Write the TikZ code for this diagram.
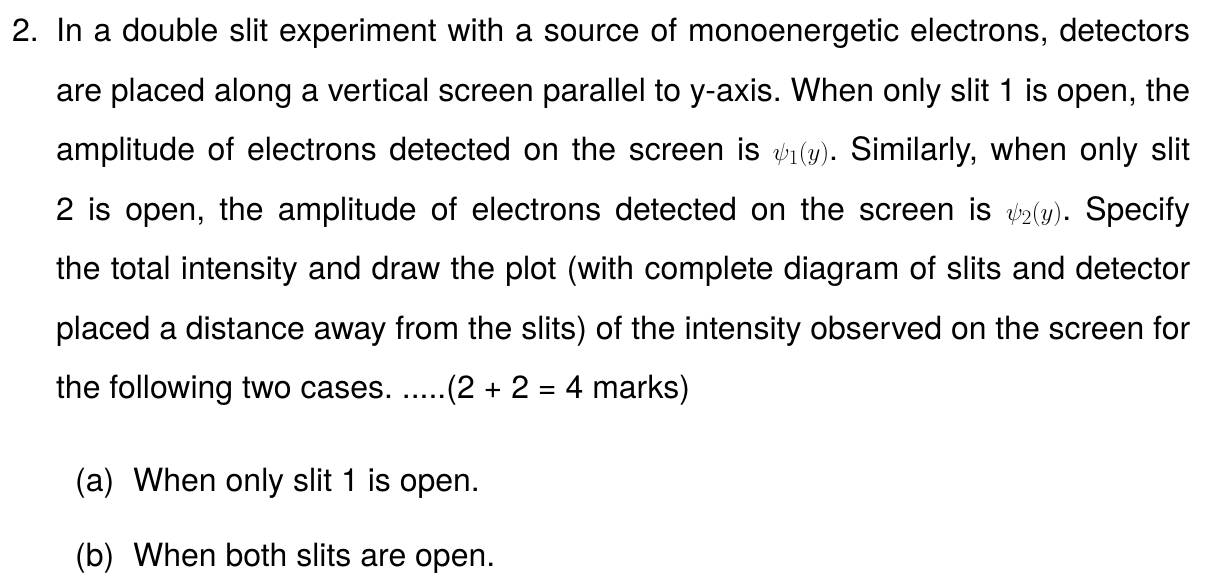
\documentclass[tikz,border=0pt]{standalone}
\usepackage{fontspec}
\setmainfont{TeX Gyre Heros}
\frenchspacing
\begin{document}
\begin{tikzpicture}[x=1pt,y=1pt,
  ln/.style={anchor=base west,inner sep=0pt,text width=1134pt,align=justify,font=\fontsize{32}{38}\selectfont},
  lbl/.style={anchor=base west,inner sep=0pt,font=\fontsize{32}{38}\selectfont}]
\useasboundingbox (0,0) rectangle (1206,-582);
\newcommand{\jl}[1]{{\frenchspacing\parfillskip=0pt\relax #1\par}}
\node[lbl] (num) at (12,-41) {2.};
\node[ln] (l1) at (56,-41) {\jl{In a double slit experiment with a source of monoenergetic electrons, detectors}};
\node[ln] (l2) at (56,-101) {\jl{are placed along a vertical screen parallel to y-axis. When only slit 1 is open, the}};
\node[ln] (l3) at (56,-160) {\jl{amplitude of electrons detected on the screen is $\psi_1(y)$. Similarly, when only slit}};
\node[ln] (l4) at (56,-220) {\jl{2 is open, the amplitude of electrons detected on the screen is $\psi_2(y)$. Specify}};
\node[ln] (l5) at (56,-279) {\jl{the total intensity and draw the plot (with complete diagram of slits and detector}};
\node[ln] (l6) at (56,-339) {\jl{placed a distance away from the slits) of the intensity observed on the screen for}};
\node[lbl] (l7) at (56,-398) {the following two cases. .....(2 + 2 = 4 marks)};
\node[lbl] (a) at (75,-491) {(a)};
\node[lbl] (at) at (133,-491) {When only slit 1 is open.};
\node[lbl] (b) at (75,-566) {(b)};
\node[lbl] (bt) at (133,-566) {When both slits are open.};
\end{tikzpicture}
\end{document}
